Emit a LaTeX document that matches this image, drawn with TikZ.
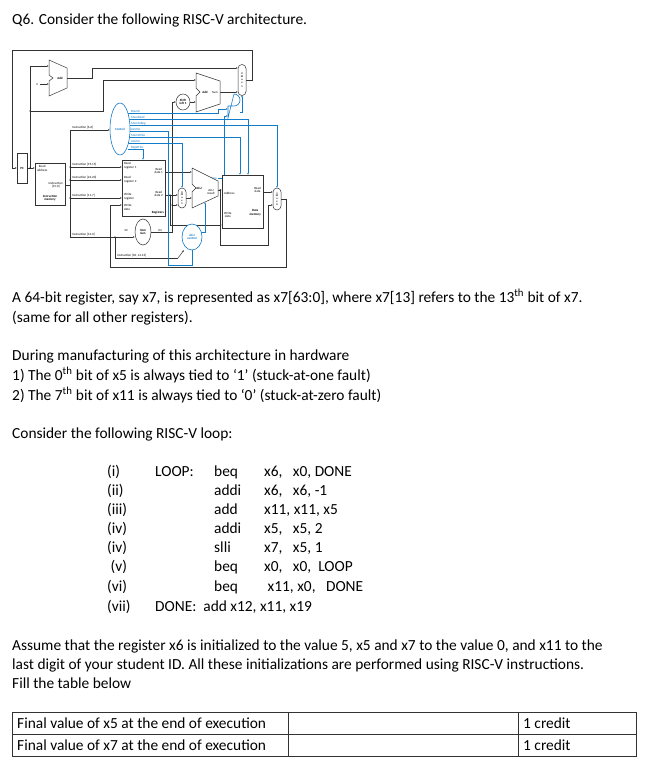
\documentclass[tikz,border=0pt]{standalone}
\usepackage{fontspec}
\setmainfont{Carlito}
\usetikzlibrary{arrows.meta,shapes.geometric}
\begin{document}
\begin{tikzpicture}[x=1pt,y=-1pt,
  txt/.style={anchor=base west,inner sep=0pt,font=\fontsize{15.4}{17}\selectfont},
  tiny/.style={inner sep=0pt,font=\fontsize{3.2}{3.6}\selectfont,align=center},
  mx/.style={inner sep=0pt,font=\fontsize{2.6}{2.9}\selectfont\bfseries,align=center},
  unit/.style={draw=black!80,line width=0.5pt,fill=white},
  wire/.style={draw=black!80,line width=0.5pt},
  ctl/.style={draw=cyan!60!blue,line width=0.6pt},
  dot/.style={circle,fill=black,inner sep=0pt,minimum size=1.4pt},
  arr/.style={-{Latex[length=2pt,width=1.6pt]}}]
\useasboundingbox[fill=white] (0,0) rectangle (657,774);
\node[txt] (title) at (12,24) {Q6. Consider the following RISC-V architecture.};
% ---------- datapath ----------
\draw[wire] (246,80) -- (252,80) -- (252,50) -- (12,50) coordinate (tl) -- (12,168);
\draw[wire,arr] (12,168) -- (17,168);
\draw[wire,arr] (27,168) -- (35,168);
\draw[wire] (30,168) -- (30,66);
\draw[wire,arr] (30,66) -- (49,66);
\node[dot] at (30,168) {}; \node[dot] at (30,111) {};
\draw[wire,arr] (30,111) -- (103,111) -- (103,80) -- (196,80);
\draw[wire,arr] (40,84) -- (49,84);
\node[tiny] (four) at (37,84) {4};
\draw[wire,arr] (67,78) -- (92,78) -- (92,68) -- (238,68);
\draw[wire,arr] (220,92) -- (238,92);
\draw[wire,arr] (190,102) -- (196,102);
\draw[wire,arr] (172,232) -- (172,102) -- (176,102);
% instruction bus
\draw[wire] (65,185) -- (70,185);
\draw[wire] (70,130) -- (70,237);
\draw[wire,arr] (70,130) -- (110,130);
\draw[wire,arr] (70,167) -- (122,167);
\draw[wire,arr] (70,180) -- (122,180);
\draw[wire,arr] (70,198) -- (122,198);
\draw[wire,arr] (70,237) -- (135,237);
\foreach \yy in {167,180,198} \node[dot] at (70,\yy) {};
\node[tiny,anchor=south west] at (72,129) {Instruction [6-0]};
\node[tiny,anchor=south west] at (72,166) {Instruction [19-15]};
\node[tiny,anchor=south west] at (72,179) {Instruction [24-20]};
\node[tiny,anchor=south west] at (72,197) {Instruction [11-7]};
\node[tiny,anchor=south west] at (72,236) {Instruction [31-0]};
\node[tiny] at (126,230) {32}; \node[tiny] at (160,230) {64};
\draw[wire] (115,237) -- (115,258) -- (178,258);
\draw[wire,arr] (178,258) -- (184,250);
\node[dot] at (115,237) {};
\node[tiny,anchor=south west] at (117,257) {Instruction [30, 14-12]};
\draw[wire,arr] (151,232) -- (172,232) -- (172,205) -- (178,205);
\node[dot] at (172,205) {};
% registers to ALU
\draw[wire,arr] (165,172) -- (192,172);
\draw[wire,arr] (165,195) -- (178,195);
\draw[wire,arr] (170,195) -- (170,225) -- (222,225);
\node[dot] at (170,195) {};
\draw[wire,arr] (186,198) -- (192,198);
\draw[wire,arr] (218,190) -- (222,190);
\draw[wire,arr] (220,190) -- (220,245) -- (268,245) -- (268,205) -- (273,205);
\node[dot] at (220,190) {};
\draw[wire,arr] (263,192) -- (273,192);
\draw[wire,arr] (281,199) -- (286,199) -- (286,267) -- (110,267) -- (110,205) -- (122,205);
% control lines
\draw[ctl,arr] (128,113) -- (218,113) -- (218,109) -- (228,109);
\draw[ctl,arr] (128,119) -- (248,119) -- (248,175);
\draw[ctl,arr] (128,125) -- (277,125) -- (277,188);
\draw[ctl,line width=1pt] (128,131) -- (168,131) -- (168,265) -- (192,265) -- (192,250);
\draw[ctl,arr] (128,137) -- (240,137) -- (240,175);
\draw[ctl,arr] (128,143) -- (182,143) -- (182,188);
\draw[ctl,arr] (128,149) -- (143,149) -- (143,160);
\draw[ctl,arr] (218,178) -- (224,178) -- (224,116) -- (228,116);
\node[tiny,text=cyan!60!blue,anchor=east] at (217,178) {Zero};
\draw[ctl,arr] (240,112) -- (242,112) -- (242,95);
\draw[ctl,line width=1pt,arr] (200,232) -- (205,232) -- (205,202);
\foreach \t/\yy in {Branch/113,MemRead/119,MemtoReg/125,ALUOp/131,MemWrite/137,ALUSrc/143,RegWrite/149}
  \node[tiny,text=cyan!60!blue,anchor=south west] at (131,\yy) {\t};
% units
\node[unit,minimum width=10pt,minimum height=30pt,tiny] (pc) at (22,168) {\textbf{PC}};
\draw[unit] (35,163) rectangle (65,205);
\node[tiny,anchor=north west] (rda) at (37,165) {Read\\address};
\node[tiny,anchor=east] (ins) at (63,185) {Instruction\\{}[31-0]};
\node[tiny] (imlab) at (50,198) {\textbf{Instruction}\\\textbf{memory}};
\draw[unit] (49,60) -- (67,68) -- (67,88) -- (49,96) -- (49,81) -- (53,78) -- (49,75) -- cycle;
\node[tiny] (add1) at (60,78) {\textbf{Add}};
\draw[unit] (196,73) -- (220,81) -- (220,104) -- (196,112) -- (196,96) -- (200,92) -- (196,88) -- cycle;
\node[tiny] (add2) at (205,92) {\textbf{Add}};
\node[tiny] at (215,92) {Sum};
\node[unit,ellipse,minimum width=14pt,minimum height=16pt,tiny] (sl) at (183,102) {\textbf{Shift}\\\textbf{left 1}};
\node[unit,rounded corners=4pt,minimum width=8pt,minimum height=31pt,mx] (mux1) at (242,80) {0\\[1pt]M\\u\\x\\[1pt]1};
\draw[ctl,fill=white] (228,106) -- (234,106) arc (90:-90:6) -- (228,118) -- cycle;
\node[ellipse,draw=cyan!60!blue,line width=0.6pt,fill=white,minimum width=20pt,minimum height=52pt,tiny,text=cyan!60!blue] (ctrl) at (120,129) {\textbf{Control}};
\draw[unit] (122,160) rectangle (165,216);
\node[tiny,anchor=north west,align=left] at (124,162) {Read\\register 1};
\node[tiny,anchor=north west,align=left] at (124,176) {Read\\register 2};
\node[tiny,anchor=north west,align=left] at (124,193) {Write\\register};
\node[tiny,anchor=north west,align=left] at (124,204) {Write\\data};
\node[tiny,anchor=east] at (163,171) {Read\\data 1};
\node[tiny,anchor=east] at (163,194) {Read\\data 2};
\node[tiny,anchor=south east] (reglab) at (164,214) {\textbf{Registers}};
\node[unit,rounded corners=4pt,minimum width=8pt,minimum height=20pt,mx] (mux2) at (182,198) {0\\M\\u\\x\\1};
\draw[unit] (192,168) -- (218,181) -- (218,196) -- (192,208) -- (192,192) -- (196,188) -- (192,184) -- cycle;
\node[tiny] (alu) at (199,188) {\textbf{ALU}};
\node[tiny] at (211,192) {ALU\\result};
\draw[unit] (222,175) rectangle (263,228);
\node[tiny,anchor=west] at (224,193) {Address};
\node[tiny,anchor=east] at (261,190) {Read\\data};
\node[tiny,anchor=west] at (224,215) {Write\\data};
\node[tiny,anchor=east] (dmlab) at (261,213) {\textbf{Data}\\\textbf{memory}};
\node[unit,rounded corners=4pt,minimum width=8pt,minimum height=22pt,mx] (mux3) at (277,199) {1\\M\\u\\x\\0};
\node[unit,ellipse,minimum width=16pt,minimum height=26pt,tiny] (imm) at (143,232) {\textbf{Imm}\\\textbf{Gen}};
\node[ellipse,draw=cyan!60!blue,line width=0.6pt,fill=white,minimum width=20pt,minimum height=26pt,tiny,text=cyan!60!blue] (aluc) at (192,237) {\textbf{ALU}\\\textbf{control}};
% ---------- text ----------
\node[txt] (p1) at (12,302) {A 64-bit register, say x7, is represented as x7[63:0], where x7[13] refers to the 13\textsuperscript{th} bit of x7.};
\node[txt] (p2) at (12,322) {(same for all other registers).};
\node[txt] (p3) at (12,360) {During manufacturing of this architecture in hardware};
\node[txt] (p4) at (12,380) {1) The 0\textsuperscript{th} bit of x5 is always tied to ‘1’ (stuck-at-one fault)};
\node[txt] (p5) at (12,400) {2) The 7\textsuperscript{th} bit of x11 is always tied to ‘0’ (stuck-at-zero fault)};
\node[txt] (p6) at (12,438) {Consider the following RISC-V loop:};
\foreach \n/\l/\lab/\op/\ar/\yy in {
  a/(i)/LOOP:/beq/{x6,\ \ \ x0, DONE}/476,
  b/(ii)//addi/{x6,\ \ \ x6, -1}/495,
  c/(iii)//add/{x11, x11, x5}/514,
  d/(iv)//addi/{x5,\ \ \ x5, 2}/533,
  e/(iv)//slli/{x7,\ \ \ x5, 1}/552,
  f/{\ (v)}//beq/{x0,\ \ \ x0,\ \ LOOP}/571,
  g/(vi)//beq/{\ x11, x0,\ \ \ DONE}/591}{
  \node[txt] (l\n) at (107,\yy) {\l};
  \node[txt] (k\n) at (155,\yy) {\lab};
  \node[txt] (o\n) at (214,\yy) {\op};
  \node[txt] (r\n) at (264,\yy) {\ar};
}
\node[txt] (lh) at (107,611) {(vii)};
\node[txt] (kh) at (155,611) {DONE:\ \ add x12, x11, x19};
\node[txt] (p7) at (12,650) {Assume that the register x6 is initialized to the value 5, x5 and x7 to the value 0, and x11 to the};
\node[txt] (p8) at (12,669) {last digit of your student ID. All these initializations are performed using RISC-V instructions.};
\node[txt] (p9) at (12,688) {Fill the table below};
% table
\draw[black!80,line width=0.7pt] (12,712) rectangle (636,756);
\draw[black!80,line width=0.7pt] (12,734) -- (636,734);
\draw[black!80,line width=0.7pt] (288,712) -- (288,756) (518,712) -- (518,756);
\node[txt] (t1) at (17,728) {Final value of x5 at the end of execution};
\node[txt] (t2) at (17,750) {Final value of x7 at the end of execution};
\node[txt] (c1) at (523,728) {1 credit};
\node[txt] (c2) at (523,750) {1 credit};
\end{tikzpicture}
\end{document}
